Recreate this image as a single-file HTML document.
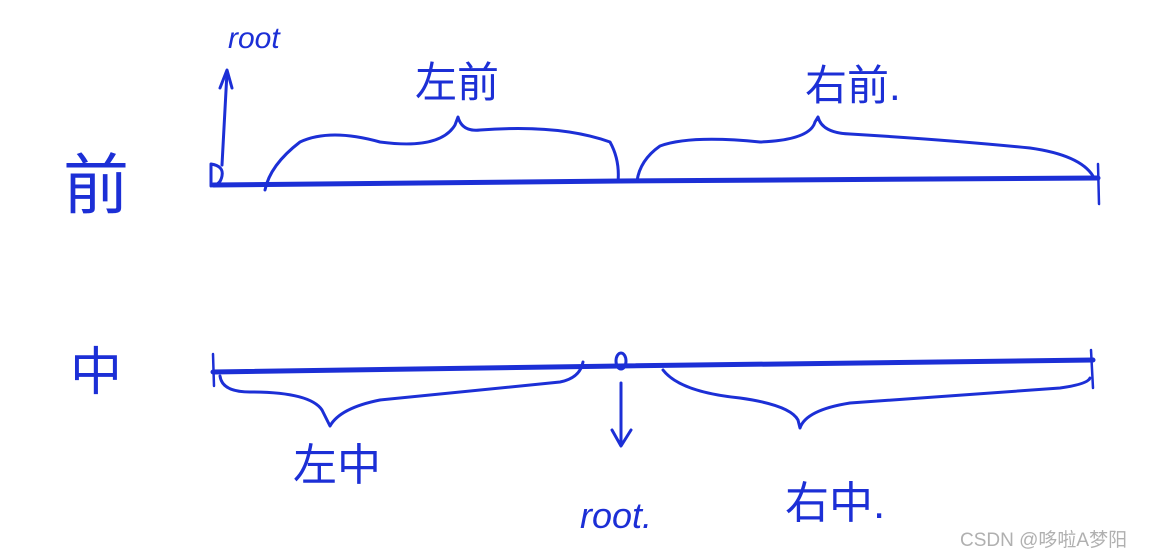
<!DOCTYPE html>
<html><head><meta charset="utf-8"><style>
html,body{margin:0;padding:0;background:#fff;}
svg{display:block}
text{font-family:"Liberation Sans","Noto Sans CJK SC",sans-serif;fill:#1c2fd6;}
</style></head><body>
<svg width="1150" height="558" viewBox="0 0 1150 558" xmlns="http://www.w3.org/2000/svg">
<g stroke="#1c2fd6" fill="none" stroke-linecap="round" stroke-linejoin="round">
<path d="M213 185 L620 181 L1098 178" stroke-width="5"/>
<path d="M1098 164 L1099 204" stroke-width="2.5"/>
<path d="M211 164 L211 186 M211 164 Q224 166 222 176 Q220 186 211 185" stroke-width="3"/>
<path d="M222 165 L227 72" stroke-width="3"/>
<path d="M220 88 L227 70 L232 88" stroke-width="3"/>
<path d="M265 190 Q270 165 300 142 Q330 128 380 142 Q440 150 455 125 L458 117 Q462 132 480 130 Q560 124 610 142 Q620 160 618 182" stroke-width="3"/>
<path d="M637 181 Q640 160 660 146 Q690 135 760 142 Q810 140 815 122 L818 117 Q822 133 850 134 Q950 140 1030 148 Q1080 155 1093 176" stroke-width="3"/>
<path d="M213 372 L620 366 L1093 360" stroke-width="5"/>
<path d="M213 354 L214 386" stroke-width="2.5"/>
<path d="M1091 350 L1093 388" stroke-width="2.5"/>
<ellipse cx="621" cy="361" rx="5" ry="8" stroke-width="3"/>
<path d="M621 383 L621 444" stroke-width="3"/>
<path d="M612 430 L621 446 L631 430" stroke-width="3"/>
<path d="M220 376 Q222 392 250 392 Q310 392 322 410 L330 426 Q340 408 380 400 Q460 392 560 382 Q580 378 583 362" stroke-width="3"/>
<path d="M663 370 Q680 392 740 398 Q790 405 798 420 L800 428 Q806 410 850 403 Q960 395 1060 388 Q1088 384 1090 378" stroke-width="3"/>
</g>
<text x="228" y="48" font-size="30" font-style="italic">root</text>
<text x="415" y="97" font-size="42">左前</text>
<text x="805" y="100" font-size="42">右前.</text>
<text x="63" y="208" font-size="66">前</text>
<text x="70" y="390" font-size="52">中</text>
<text x="293" y="480" font-size="44">左中</text>
<text x="580" y="528" font-size="36" font-style="italic">root.</text>
<text x="785" y="518" font-size="44">右中.</text>
<text x="960" y="546" font-size="19" style="fill:#b0b0b0">CSDN @哆啦A梦阳</text>
</svg>
</body></html>
